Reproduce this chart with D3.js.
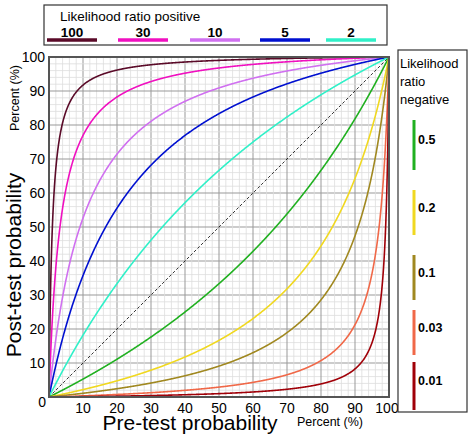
<!DOCTYPE html><html><head><script src="https://cdn.jsdelivr.net/npm/d3@7"></script>
<style>body{margin:0;background:#fff}text{font-family:"Liberation Sans",Arial,sans-serif}</style></head><body>
<svg id="c" width="474" height="436"></svg>
<script>
const lrPos=[100,30,10,5,2];
const lrPosColors=["#5a0a28","#f010c0","#d070f0","#0010d0","#30f0c8"];
const lrNeg=[0.5,0.2,0.1,0.03,0.01];
const lrNegColors=["#20b020","#f0d820","#a08820","#f06848","#a00008"];
const ticks=[0,10,20,30,40,50,60,70,80,90,100];
const svg=d3.select("#c");
const L=49,R=389,T=57,B=397;
const x=d3.scaleLinear().domain([0,100]).range([L,R]);
const y=d3.scaleLinear().domain([0,100]).range([B,T]);
const g=svg.append("g");
d3.range(0,101,2).forEach(v=>{
  const maj=v%10===0;
  g.append("line").attr("x1",x(v)).attr("x2",x(v)).attr("y1",T).attr("y2",B).attr("stroke",maj?"#999":"#ddd").attr("stroke-width",maj?1:0.8);
  g.append("line").attr("y1",y(v)).attr("y2",y(v)).attr("x1",L).attr("x2",R).attr("stroke",maj?"#999":"#ddd").attr("stroke-width",maj?1:0.8);
});
const ps=d3.range(0,100.001,0.1);
const post=(p,lr)=>{const q=p/100;return 100*lr*q/(1-q+lr*q);};
const line=d3.line().x(d=>x(d[0])).y(d=>y(d[1]));
g.append("line").attr("x1",x(0)).attr("y1",y(0)).attr("x2",x(100)).attr("y2",y(100)).attr("stroke","#000").attr("stroke-dasharray","3,2").attr("stroke-width",0.8);
[...lrPos.map((lr,i)=>[lr,lrPosColors[i]]),...lrNeg.map((lr,i)=>[lr,lrNegColors[i]])].forEach(([lr,c])=>{
  g.append("path").attr("d",line(ps.map(p=>[p,post(p,lr)]))).attr("fill","none").attr("stroke",c).attr("stroke-width",1.6);
});
g.append("rect").attr("x",L).attr("y",T).attr("width",R-L).attr("height",B-T).attr("fill","none").attr("stroke","#555").attr("stroke-width",2);
ticks.forEach(v=>{
  if(v>0) svg.append("text").attr("x",x(v)+(v===100?-2:0)).attr("y",413).attr("text-anchor","middle").attr("font-size",14).text(v);
  svg.append("text").attr("x",v===0?46:L-4).attr("y",v===0?407:y(v)+5).attr("text-anchor","end").attr("font-size",14).text(v);
});
svg.append("text").attr("x",190).attr("y",430).attr("text-anchor","middle").attr("font-size",21).text("Pre-test probability");
svg.append("text").attr("x",330).attr("y",426).attr("text-anchor","middle").attr("font-size",12.5).text("Percent (%)");
svg.append("text").attr("transform","translate(21,265) rotate(-90)").attr("text-anchor","middle").attr("font-size",21).text("Post-test probability");
svg.append("text").attr("transform","translate(19,98) rotate(-90)").attr("text-anchor","middle").attr("font-size",12.5).text("Percent (%)");
// top legend
svg.append("rect").attr("x",44).attr("y",5).attr("width",343).attr("height",40).attr("fill","#fff").attr("stroke","#333").attr("stroke-width",1.2);
svg.append("text").attr("x",60).attr("y",21).attr("font-size",13.5).text("Likelihood ratio positive");
const swX=[47,118,190,260,326];
lrPos.forEach((lr,i)=>{
  svg.append("line").attr("x1",swX[i]).attr("x2",swX[i]+50).attr("y1",40).attr("y2",40).attr("stroke",lrPosColors[i]).attr("stroke-width",3.5);
  svg.append("text").attr("x",swX[i]+25).attr("y",37).attr("text-anchor","middle").attr("font-size",13.5).attr("font-weight","bold").text(lr);
});
// right legend
svg.append("rect").attr("x",398).attr("y",50).attr("width",69).attr("height",362).attr("fill","#fff").attr("stroke","#333").attr("stroke-width",1.2);
["Likelihood","ratio","negative"].forEach((t,i)=>svg.append("text").attr("x",400).attr("y",68+i*18).attr("font-size",13).text(t));
const segY=[[120,170],[190,235],[255,300],[310,355],[362,410]];
lrNeg.forEach((lr,i)=>{
  svg.append("line").attr("x1",414).attr("x2",414).attr("y1",segY[i][0]).attr("y2",segY[i][1]).attr("stroke",lrNegColors[i]).attr("stroke-width",3);
  svg.append("text").attr("x",418).attr("y",(segY[i][0]+segY[i][1])/2-1).attr("font-size",12.5).attr("font-weight","bold").text(lr);
});
</script></body></html>
